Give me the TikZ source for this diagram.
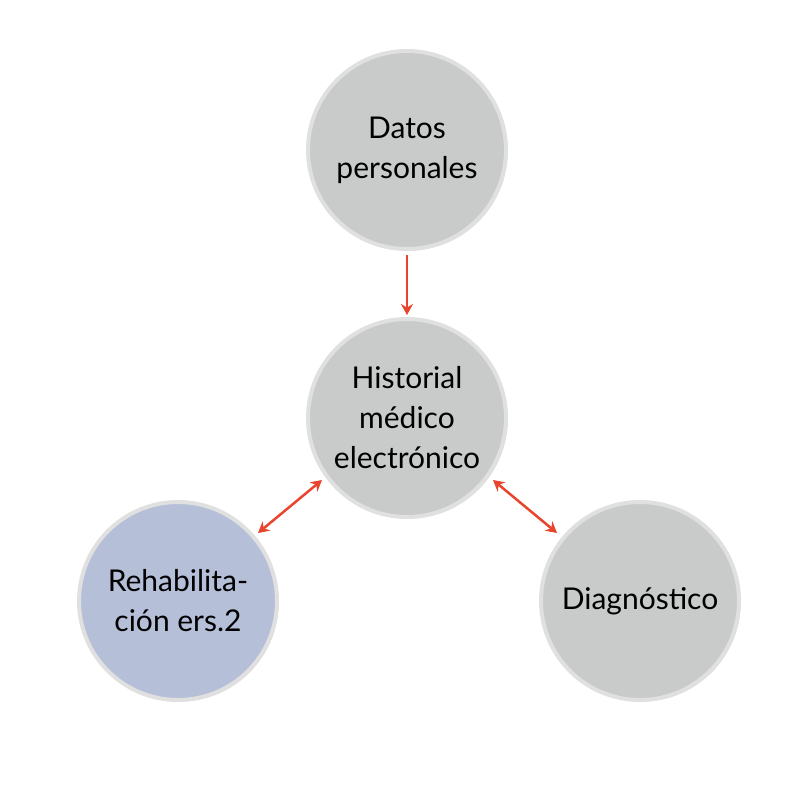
\documentclass[tikz,border=0pt]{standalone}
\usepackage{fontspec}
\setmainfont{Lato}
\usetikzlibrary{arrows.meta,shadows}
\definecolor{cg}{HTML}{C9CBCB}
\definecolor{cb}{HTML}{B5C0D8}
\definecolor{rd}{HTML}{E8452C}
\begin{document}
\begin{tikzpicture}[x=1pt,y=-1pt,
  bub/.style={circle,minimum size=198pt,inner sep=0pt,draw=white!88!black,line width=4pt,
    drop shadow={shadow xshift=1.5pt,shadow yshift=-1.5pt,opacity=0.35},
    align=center,font=\fontsize{30}{40}\selectfont,text=black},
  arr/.style={draw=rd,line width=2.5pt,-{Stealth[length=11pt,width=12pt]}},
  darr/.style={draw=rd,line width=2.5pt,{Stealth[length=11pt,width=12pt]}-{Stealth[length=11pt,width=12pt]}}]
\useasboundingbox (0,0) rectangle (800,800);
\node[bub,fill=cg] (dp) at (407,150) {Datos\\personales};
\node[bub,fill=cg] (hm) at (407,418) {Historial\\médico\\electrónico};
\node[bub,fill=cb] (rh) at (178,601) {Rehabilita-\\ción ers.2};
\node[bub,fill=cg] (dg) at (640,601) {Diagnóstico};
\draw[arr] (407,255) -- (407,315);
\draw[darr] (322,480) -- (258,533);
\draw[darr] (493,480) -- (557,533);
\end{tikzpicture}
\end{document}
